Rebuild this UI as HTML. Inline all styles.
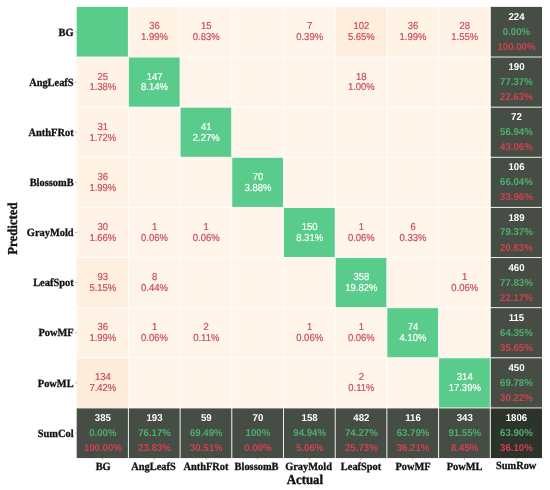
<!DOCTYPE html>
<html lang="en"><head><meta charset="utf-8"><title>Confusion matrix</title>
<style>
html,body{margin:0;padding:0;background:#fff;}
body{width:550px;height:490px;overflow:hidden;}
svg{display:block;position:absolute;left:0;top:0;}
text{text-rendering:geometricPrecision;}
.t{font-family:"Liberation Sans",sans-serif;font-size:10.1px;fill:#c94d5a;stroke:#c94d5a;stroke-width:0.2px;text-anchor:middle;}
.w{fill:#fff;stroke:#fff;}
.s{font-family:"Liberation Sans",sans-serif;font-size:10.0px;font-weight:bold;text-anchor:middle;}
.n{fill:#fff;}
.g{fill:#4fae6e;}
.r{fill:#d4404f;}
.l{font-family:"Liberation Serif",serif;font-weight:bold;font-size:11px;fill:#111111;stroke:#111111;stroke-width:0.3px;}
.a{font-family:"Liberation Serif",serif;font-weight:bold;font-size:13.6px;fill:#111111;text-anchor:middle;stroke:#111111;stroke-width:0.35px;}
</style></head><body>
<svg width="550" height="490" viewBox="0 0 550 490">
<rect x="0" y="0" width="550" height="490" fill="#ffffff"/>
<rect x="76.7" y="6.9" width="51.7" height="50.13" fill="#59cc8c"/>
<rect x="128.4" y="6.9" width="51.7" height="50.13" fill="#fff3e6"/>
<rect x="180.1" y="6.9" width="51.7" height="50.13" fill="#fff4e9"/>
<rect x="231.8" y="6.9" width="51.7" height="50.13" fill="#fff5eb"/>
<rect x="283.5" y="6.9" width="51.7" height="50.13" fill="#fff5ea"/>
<rect x="335.2" y="6.9" width="51.7" height="50.13" fill="#ffeede"/>
<rect x="386.9" y="6.9" width="51.7" height="50.13" fill="#fff3e6"/>
<rect x="438.6" y="6.9" width="51.7" height="50.13" fill="#fff3e7"/>
<rect x="490.3" y="6.9" width="51.7" height="50.13" fill="#454d45"/>
<rect x="76.7" y="57.03" width="51.7" height="50.13" fill="#fff3e8"/>
<rect x="128.4" y="57.03" width="51.7" height="50.13" fill="#59cc8c"/>
<rect x="180.1" y="57.03" width="51.7" height="50.13" fill="#fff5eb"/>
<rect x="231.8" y="57.03" width="51.7" height="50.13" fill="#fff5eb"/>
<rect x="283.5" y="57.03" width="51.7" height="50.13" fill="#fff5eb"/>
<rect x="335.2" y="57.03" width="51.7" height="50.13" fill="#fff4e9"/>
<rect x="386.9" y="57.03" width="51.7" height="50.13" fill="#fff5eb"/>
<rect x="438.6" y="57.03" width="51.7" height="50.13" fill="#fff5eb"/>
<rect x="490.3" y="57.03" width="51.7" height="50.13" fill="#454d45"/>
<rect x="76.7" y="107.16" width="51.7" height="50.13" fill="#fff3e7"/>
<rect x="128.4" y="107.16" width="51.7" height="50.13" fill="#fff5eb"/>
<rect x="180.1" y="107.16" width="51.7" height="50.13" fill="#59cc8c"/>
<rect x="231.8" y="107.16" width="51.7" height="50.13" fill="#fff5eb"/>
<rect x="283.5" y="107.16" width="51.7" height="50.13" fill="#fff5eb"/>
<rect x="335.2" y="107.16" width="51.7" height="50.13" fill="#fff5eb"/>
<rect x="386.9" y="107.16" width="51.7" height="50.13" fill="#fff5eb"/>
<rect x="438.6" y="107.16" width="51.7" height="50.13" fill="#fff5eb"/>
<rect x="490.3" y="107.16" width="51.7" height="50.13" fill="#454d45"/>
<rect x="76.7" y="157.29" width="51.7" height="50.13" fill="#fff3e6"/>
<rect x="128.4" y="157.29" width="51.7" height="50.13" fill="#fff5eb"/>
<rect x="180.1" y="157.29" width="51.7" height="50.13" fill="#fff5eb"/>
<rect x="231.8" y="157.29" width="51.7" height="50.13" fill="#59cc8c"/>
<rect x="283.5" y="157.29" width="51.7" height="50.13" fill="#fff5eb"/>
<rect x="335.2" y="157.29" width="51.7" height="50.13" fill="#fff5eb"/>
<rect x="386.9" y="157.29" width="51.7" height="50.13" fill="#fff5eb"/>
<rect x="438.6" y="157.29" width="51.7" height="50.13" fill="#fff5eb"/>
<rect x="490.3" y="157.29" width="51.7" height="50.13" fill="#454d45"/>
<rect x="76.7" y="207.42" width="51.7" height="50.13" fill="#fff3e7"/>
<rect x="128.4" y="207.42" width="51.7" height="50.13" fill="#fff5eb"/>
<rect x="180.1" y="207.42" width="51.7" height="50.13" fill="#fff5eb"/>
<rect x="231.8" y="207.42" width="51.7" height="50.13" fill="#fff5eb"/>
<rect x="283.5" y="207.42" width="51.7" height="50.13" fill="#59cc8c"/>
<rect x="335.2" y="207.42" width="51.7" height="50.13" fill="#fff5eb"/>
<rect x="386.9" y="207.42" width="51.7" height="50.13" fill="#fff5ea"/>
<rect x="438.6" y="207.42" width="51.7" height="50.13" fill="#fff5eb"/>
<rect x="490.3" y="207.42" width="51.7" height="50.13" fill="#454d45"/>
<rect x="76.7" y="257.55" width="51.7" height="50.13" fill="#ffefdf"/>
<rect x="128.4" y="257.55" width="51.7" height="50.13" fill="#fff4ea"/>
<rect x="180.1" y="257.55" width="51.7" height="50.13" fill="#fff5eb"/>
<rect x="231.8" y="257.55" width="51.7" height="50.13" fill="#fff5eb"/>
<rect x="283.5" y="257.55" width="51.7" height="50.13" fill="#fff5eb"/>
<rect x="335.2" y="257.55" width="51.7" height="50.13" fill="#59cc8c"/>
<rect x="386.9" y="257.55" width="51.7" height="50.13" fill="#fff5eb"/>
<rect x="438.6" y="257.55" width="51.7" height="50.13" fill="#fff5eb"/>
<rect x="490.3" y="257.55" width="51.7" height="50.13" fill="#454d45"/>
<rect x="76.7" y="307.68" width="51.7" height="50.13" fill="#fff3e6"/>
<rect x="128.4" y="307.68" width="51.7" height="50.13" fill="#fff5eb"/>
<rect x="180.1" y="307.68" width="51.7" height="50.13" fill="#fff5eb"/>
<rect x="231.8" y="307.68" width="51.7" height="50.13" fill="#fff5eb"/>
<rect x="283.5" y="307.68" width="51.7" height="50.13" fill="#fff5eb"/>
<rect x="335.2" y="307.68" width="51.7" height="50.13" fill="#fff5eb"/>
<rect x="386.9" y="307.68" width="51.7" height="50.13" fill="#59cc8c"/>
<rect x="438.6" y="307.68" width="51.7" height="50.13" fill="#fff5eb"/>
<rect x="490.3" y="307.68" width="51.7" height="50.13" fill="#454d45"/>
<rect x="76.7" y="357.81" width="51.7" height="50.13" fill="#feecda"/>
<rect x="128.4" y="357.81" width="51.7" height="50.13" fill="#fff5eb"/>
<rect x="180.1" y="357.81" width="51.7" height="50.13" fill="#fff5eb"/>
<rect x="231.8" y="357.81" width="51.7" height="50.13" fill="#fff5eb"/>
<rect x="283.5" y="357.81" width="51.7" height="50.13" fill="#fff5eb"/>
<rect x="335.2" y="357.81" width="51.7" height="50.13" fill="#fff5eb"/>
<rect x="386.9" y="357.81" width="51.7" height="50.13" fill="#fff5eb"/>
<rect x="438.6" y="357.81" width="51.7" height="50.13" fill="#59cc8c"/>
<rect x="490.3" y="357.81" width="51.7" height="50.13" fill="#454d45"/>
<rect x="76.7" y="407.94" width="51.7" height="50.13" fill="#454d45"/>
<rect x="128.4" y="407.94" width="51.7" height="50.13" fill="#454d45"/>
<rect x="180.1" y="407.94" width="51.7" height="50.13" fill="#454d45"/>
<rect x="231.8" y="407.94" width="51.7" height="50.13" fill="#454d45"/>
<rect x="283.5" y="407.94" width="51.7" height="50.13" fill="#454d45"/>
<rect x="335.2" y="407.94" width="51.7" height="50.13" fill="#454d45"/>
<rect x="386.9" y="407.94" width="51.7" height="50.13" fill="#454d45"/>
<rect x="438.6" y="407.94" width="51.7" height="50.13" fill="#454d45"/>
<rect x="490.3" y="407.94" width="51.7" height="50.13" fill="#2b332b"/>
<line x1="128.4" y1="6.9" x2="128.4" y2="458.07" stroke="#fff" stroke-opacity="0.88" stroke-width="1.0"/>
<line x1="76.7" y1="57.03" x2="542" y2="57.03" stroke="#fff" stroke-opacity="0.88" stroke-width="1.0"/>
<line x1="180.1" y1="6.9" x2="180.1" y2="458.07" stroke="#fff" stroke-opacity="0.88" stroke-width="1.0"/>
<line x1="76.7" y1="107.16" x2="542" y2="107.16" stroke="#fff" stroke-opacity="0.88" stroke-width="1.0"/>
<line x1="231.8" y1="6.9" x2="231.8" y2="458.07" stroke="#fff" stroke-opacity="0.88" stroke-width="1.0"/>
<line x1="76.7" y1="157.29" x2="542" y2="157.29" stroke="#fff" stroke-opacity="0.88" stroke-width="1.0"/>
<line x1="283.5" y1="6.9" x2="283.5" y2="458.07" stroke="#fff" stroke-opacity="0.88" stroke-width="1.0"/>
<line x1="76.7" y1="207.42" x2="542" y2="207.42" stroke="#fff" stroke-opacity="0.88" stroke-width="1.0"/>
<line x1="335.2" y1="6.9" x2="335.2" y2="458.07" stroke="#fff" stroke-opacity="0.88" stroke-width="1.0"/>
<line x1="76.7" y1="257.55" x2="542" y2="257.55" stroke="#fff" stroke-opacity="0.88" stroke-width="1.0"/>
<line x1="386.9" y1="6.9" x2="386.9" y2="458.07" stroke="#fff" stroke-opacity="0.88" stroke-width="1.0"/>
<line x1="76.7" y1="307.68" x2="542" y2="307.68" stroke="#fff" stroke-opacity="0.88" stroke-width="1.0"/>
<line x1="438.6" y1="6.9" x2="438.6" y2="458.07" stroke="#fff" stroke-opacity="0.88" stroke-width="1.0"/>
<line x1="76.7" y1="357.81" x2="542" y2="357.81" stroke="#fff" stroke-opacity="0.88" stroke-width="1.0"/>
<line x1="490.3" y1="6.9" x2="490.3" y2="458.07" stroke="#fff" stroke-opacity="0.88" stroke-width="1.0"/>
<line x1="76.7" y1="407.94" x2="542" y2="407.94" stroke="#fff" stroke-opacity="0.88" stroke-width="1.0"/>
<text class="t" transform="translate(154.55 29.4) scale(0.94 1)">36</text>
<text class="t" transform="translate(154.55 40.3) scale(0.94 1)">1.99%</text>
<text class="t" transform="translate(206.25 29.4) scale(0.94 1)">15</text>
<text class="t" transform="translate(206.25 40.3) scale(0.94 1)">0.83%</text>
<text class="t" transform="translate(309.65 29.4) scale(0.94 1)">7</text>
<text class="t" transform="translate(309.65 40.3) scale(0.94 1)">0.39%</text>
<text class="t" transform="translate(361.35 29.4) scale(0.94 1)">102</text>
<text class="t" transform="translate(361.35 40.3) scale(0.94 1)">5.65%</text>
<text class="t" transform="translate(413.05 29.4) scale(0.94 1)">36</text>
<text class="t" transform="translate(413.05 40.3) scale(0.94 1)">1.99%</text>
<text class="t" transform="translate(464.75 29.4) scale(0.94 1)">28</text>
<text class="t" transform="translate(464.75 40.3) scale(0.94 1)">1.55%</text>
<text class="s n" transform="translate(516.45 20.05) scale(0.965 1)">224</text>
<text class="s g" transform="translate(516.45 34.95) scale(0.965 1)">0.00%</text>
<text class="s r" transform="translate(516.45 50.1) scale(0.965 1)">100.00%</text>
<text class="t" transform="translate(102.85 79.53) scale(0.94 1)">25</text>
<text class="t" transform="translate(102.85 90.43) scale(0.94 1)">1.38%</text>
<text class="t w" transform="translate(154.55 79.53) scale(0.94 1)">147</text>
<text class="t w" transform="translate(154.55 90.43) scale(0.94 1)">8.14%</text>
<text class="t" transform="translate(361.35 79.53) scale(0.94 1)">18</text>
<text class="t" transform="translate(361.35 90.43) scale(0.94 1)">1.00%</text>
<text class="s n" transform="translate(516.45 70.18) scale(0.965 1)">190</text>
<text class="s g" transform="translate(516.45 85.08) scale(0.965 1)">77.37%</text>
<text class="s r" transform="translate(516.45 100.23) scale(0.965 1)">22.63%</text>
<text class="t" transform="translate(102.85 129.66) scale(0.94 1)">31</text>
<text class="t" transform="translate(102.85 140.56) scale(0.94 1)">1.72%</text>
<text class="t w" transform="translate(206.25 129.66) scale(0.94 1)">41</text>
<text class="t w" transform="translate(206.25 140.56) scale(0.94 1)">2.27%</text>
<text class="s n" transform="translate(516.45 120.31) scale(0.965 1)">72</text>
<text class="s g" transform="translate(516.45 135.21) scale(0.965 1)">56.94%</text>
<text class="s r" transform="translate(516.45 150.36) scale(0.965 1)">43.06%</text>
<text class="t" transform="translate(102.85 179.79) scale(0.94 1)">36</text>
<text class="t" transform="translate(102.85 190.69) scale(0.94 1)">1.99%</text>
<text class="t w" transform="translate(257.95 179.79) scale(0.94 1)">70</text>
<text class="t w" transform="translate(257.95 190.69) scale(0.94 1)">3.88%</text>
<text class="s n" transform="translate(516.45 170.44) scale(0.965 1)">106</text>
<text class="s g" transform="translate(516.45 185.34) scale(0.965 1)">66.04%</text>
<text class="s r" transform="translate(516.45 200.49) scale(0.965 1)">33.96%</text>
<text class="t" transform="translate(102.85 229.92) scale(0.94 1)">30</text>
<text class="t" transform="translate(102.85 240.82) scale(0.94 1)">1.66%</text>
<text class="t" transform="translate(154.55 229.92) scale(0.94 1)">1</text>
<text class="t" transform="translate(154.55 240.82) scale(0.94 1)">0.06%</text>
<text class="t" transform="translate(206.25 229.92) scale(0.94 1)">1</text>
<text class="t" transform="translate(206.25 240.82) scale(0.94 1)">0.06%</text>
<text class="t w" transform="translate(309.65 229.92) scale(0.94 1)">150</text>
<text class="t w" transform="translate(309.65 240.82) scale(0.94 1)">8.31%</text>
<text class="t" transform="translate(361.35 229.92) scale(0.94 1)">1</text>
<text class="t" transform="translate(361.35 240.82) scale(0.94 1)">0.06%</text>
<text class="t" transform="translate(413.05 229.92) scale(0.94 1)">6</text>
<text class="t" transform="translate(413.05 240.82) scale(0.94 1)">0.33%</text>
<text class="s n" transform="translate(516.45 220.57) scale(0.965 1)">189</text>
<text class="s g" transform="translate(516.45 235.47) scale(0.965 1)">79.37%</text>
<text class="s r" transform="translate(516.45 250.62) scale(0.965 1)">20.63%</text>
<text class="t" transform="translate(102.85 280.05) scale(0.94 1)">93</text>
<text class="t" transform="translate(102.85 290.95) scale(0.94 1)">5.15%</text>
<text class="t" transform="translate(154.55 280.05) scale(0.94 1)">8</text>
<text class="t" transform="translate(154.55 290.95) scale(0.94 1)">0.44%</text>
<text class="t w" transform="translate(361.35 280.05) scale(0.94 1)">358</text>
<text class="t w" transform="translate(361.35 290.95) scale(0.94 1)">19.82%</text>
<text class="t" transform="translate(464.75 280.05) scale(0.94 1)">1</text>
<text class="t" transform="translate(464.75 290.95) scale(0.94 1)">0.06%</text>
<text class="s n" transform="translate(516.45 270.7) scale(0.965 1)">460</text>
<text class="s g" transform="translate(516.45 285.6) scale(0.965 1)">77.83%</text>
<text class="s r" transform="translate(516.45 300.75) scale(0.965 1)">22.17%</text>
<text class="t" transform="translate(102.85 330.18) scale(0.94 1)">36</text>
<text class="t" transform="translate(102.85 341.08) scale(0.94 1)">1.99%</text>
<text class="t" transform="translate(154.55 330.18) scale(0.94 1)">1</text>
<text class="t" transform="translate(154.55 341.08) scale(0.94 1)">0.06%</text>
<text class="t" transform="translate(206.25 330.18) scale(0.94 1)">2</text>
<text class="t" transform="translate(206.25 341.08) scale(0.94 1)">0.11%</text>
<text class="t" transform="translate(309.65 330.18) scale(0.94 1)">1</text>
<text class="t" transform="translate(309.65 341.08) scale(0.94 1)">0.06%</text>
<text class="t" transform="translate(361.35 330.18) scale(0.94 1)">1</text>
<text class="t" transform="translate(361.35 341.08) scale(0.94 1)">0.06%</text>
<text class="t w" transform="translate(413.05 330.18) scale(0.94 1)">74</text>
<text class="t w" transform="translate(413.05 341.08) scale(0.94 1)">4.10%</text>
<text class="s n" transform="translate(516.45 320.83) scale(0.965 1)">115</text>
<text class="s g" transform="translate(516.45 335.73) scale(0.965 1)">64.35%</text>
<text class="s r" transform="translate(516.45 350.88) scale(0.965 1)">35.65%</text>
<text class="t" transform="translate(102.85 380.31) scale(0.94 1)">134</text>
<text class="t" transform="translate(102.85 391.21) scale(0.94 1)">7.42%</text>
<text class="t" transform="translate(361.35 380.31) scale(0.94 1)">2</text>
<text class="t" transform="translate(361.35 391.21) scale(0.94 1)">0.11%</text>
<text class="t w" transform="translate(464.75 380.31) scale(0.94 1)">314</text>
<text class="t w" transform="translate(464.75 391.21) scale(0.94 1)">17.39%</text>
<text class="s n" transform="translate(516.45 370.96) scale(0.965 1)">450</text>
<text class="s g" transform="translate(516.45 385.86) scale(0.965 1)">69.78%</text>
<text class="s r" transform="translate(516.45 401.01) scale(0.965 1)">30.22%</text>
<text class="s n" transform="translate(102.85 421.09) scale(0.965 1)">385</text>
<text class="s g" transform="translate(102.85 435.99) scale(0.965 1)">0.00%</text>
<text class="s r" transform="translate(102.85 451.14) scale(0.965 1)">100.00%</text>
<text class="s n" transform="translate(154.55 421.09) scale(0.965 1)">193</text>
<text class="s g" transform="translate(154.55 435.99) scale(0.965 1)">76.17%</text>
<text class="s r" transform="translate(154.55 451.14) scale(0.965 1)">23.83%</text>
<text class="s n" transform="translate(206.25 421.09) scale(0.965 1)">59</text>
<text class="s g" transform="translate(206.25 435.99) scale(0.965 1)">69.49%</text>
<text class="s r" transform="translate(206.25 451.14) scale(0.965 1)">30.51%</text>
<text class="s n" transform="translate(257.95 421.09) scale(0.965 1)">70</text>
<text class="s g" transform="translate(257.95 435.99) scale(0.965 1)">100%</text>
<text class="s r" transform="translate(257.95 451.14) scale(0.965 1)">0.00%</text>
<text class="s n" transform="translate(309.65 421.09) scale(0.965 1)">158</text>
<text class="s g" transform="translate(309.65 435.99) scale(0.965 1)">94.94%</text>
<text class="s r" transform="translate(309.65 451.14) scale(0.965 1)">5.06%</text>
<text class="s n" transform="translate(361.35 421.09) scale(0.965 1)">482</text>
<text class="s g" transform="translate(361.35 435.99) scale(0.965 1)">74.27%</text>
<text class="s r" transform="translate(361.35 451.14) scale(0.965 1)">25.73%</text>
<text class="s n" transform="translate(413.05 421.09) scale(0.965 1)">116</text>
<text class="s g" transform="translate(413.05 435.99) scale(0.965 1)">63.79%</text>
<text class="s r" transform="translate(413.05 451.14) scale(0.965 1)">36.21%</text>
<text class="s n" transform="translate(464.75 421.09) scale(0.965 1)">343</text>
<text class="s g" transform="translate(464.75 435.99) scale(0.965 1)">91.55%</text>
<text class="s r" transform="translate(464.75 451.14) scale(0.965 1)">8.45%</text>
<text class="s n" transform="translate(516.45 421.09) scale(0.965 1)">1806</text>
<text class="s g" transform="translate(516.45 435.99) scale(0.965 1)">63.90%</text>
<text class="s r" transform="translate(516.45 451.14) scale(0.965 1)">36.10%</text>
<line x1="75.1" y1="31.97" x2="76.7" y2="31.97" stroke="#9a9a9a" stroke-width="0.8"/>
<text class="l" text-anchor="end" transform="translate(73.6 35.67) scale(0.945 1)">BG</text>
<line x1="75.1" y1="82.09" x2="76.7" y2="82.09" stroke="#9a9a9a" stroke-width="0.8"/>
<text class="l" text-anchor="end" transform="translate(73.6 85.8) scale(0.945 1)">AngLeafS</text>
<line x1="75.1" y1="132.23" x2="76.7" y2="132.23" stroke="#9a9a9a" stroke-width="0.8"/>
<text class="l" text-anchor="end" transform="translate(73.6 135.93) scale(0.945 1)">AnthFRot</text>
<line x1="75.1" y1="182.36" x2="76.7" y2="182.36" stroke="#9a9a9a" stroke-width="0.8"/>
<text class="l" text-anchor="end" transform="translate(73.6 186.06) scale(0.945 1)">BlossomB</text>
<line x1="75.1" y1="232.49" x2="76.7" y2="232.49" stroke="#9a9a9a" stroke-width="0.8"/>
<text class="l" text-anchor="end" transform="translate(73.6 236.19) scale(0.945 1)">GrayMold</text>
<line x1="75.1" y1="282.62" x2="76.7" y2="282.62" stroke="#9a9a9a" stroke-width="0.8"/>
<text class="l" text-anchor="end" transform="translate(73.6 286.31) scale(0.945 1)">LeafSpot</text>
<line x1="75.1" y1="332.75" x2="76.7" y2="332.75" stroke="#9a9a9a" stroke-width="0.8"/>
<text class="l" text-anchor="end" transform="translate(73.6 336.44) scale(0.945 1)">PowMF</text>
<line x1="75.1" y1="382.88" x2="76.7" y2="382.88" stroke="#9a9a9a" stroke-width="0.8"/>
<text class="l" text-anchor="end" transform="translate(73.6 386.57) scale(0.945 1)">PowML</text>
<line x1="75.1" y1="433" x2="76.7" y2="433" stroke="#9a9a9a" stroke-width="0.8"/>
<text class="l" text-anchor="end" transform="translate(73.6 436.7) scale(0.945 1)">SumCol</text>
<line x1="102.55" y1="458.07" x2="102.55" y2="459.67" stroke="#9a9a9a" stroke-width="0.8"/>
<text class="l" text-anchor="middle" transform="translate(103.15 470.2) scale(0.945 1)">BG</text>
<line x1="154.25" y1="458.07" x2="154.25" y2="459.67" stroke="#9a9a9a" stroke-width="0.8"/>
<text class="l" text-anchor="middle" transform="translate(153.45 470.2) scale(0.945 1)">AngLeafS</text>
<line x1="205.95" y1="458.07" x2="205.95" y2="459.67" stroke="#9a9a9a" stroke-width="0.8"/>
<text class="l" text-anchor="middle" transform="translate(205.95 470.2) scale(0.945 1)">AnthFRot</text>
<line x1="257.65" y1="458.07" x2="257.65" y2="459.67" stroke="#9a9a9a" stroke-width="0.8"/>
<text class="l" text-anchor="middle" transform="translate(256.55 470.2) scale(0.945 1)">BlossomB</text>
<line x1="309.35" y1="458.07" x2="309.35" y2="459.67" stroke="#9a9a9a" stroke-width="0.8"/>
<text class="l" text-anchor="middle" transform="translate(308.55 470.2) scale(0.945 1)">GrayMold</text>
<line x1="361.05" y1="458.07" x2="361.05" y2="459.67" stroke="#9a9a9a" stroke-width="0.8"/>
<text class="l" text-anchor="middle" transform="translate(361.05 470.2) scale(0.945 1)">LeafSpot</text>
<line x1="412.75" y1="458.07" x2="412.75" y2="459.67" stroke="#9a9a9a" stroke-width="0.8"/>
<text class="l" text-anchor="middle" transform="translate(413.05 470.2) scale(0.945 1)">PowMF</text>
<line x1="464.45" y1="458.07" x2="464.45" y2="459.67" stroke="#9a9a9a" stroke-width="0.8"/>
<text class="l" text-anchor="middle" transform="translate(464.65 470.2) scale(0.945 1)">PowML</text>
<line x1="516.15" y1="458.07" x2="516.15" y2="459.67" stroke="#9a9a9a" stroke-width="0.8"/>
<text class="l" text-anchor="middle" transform="translate(516.15 468.9) scale(0.945 1)">SumRow</text>
<text class="a" transform="translate(304.9 484.3) scale(0.94 1)">Actual</text>
<text class="a" transform="translate(16.9 228.6) rotate(-90) scale(0.94 1)">Predicted</text>
</svg>
</body></html>
